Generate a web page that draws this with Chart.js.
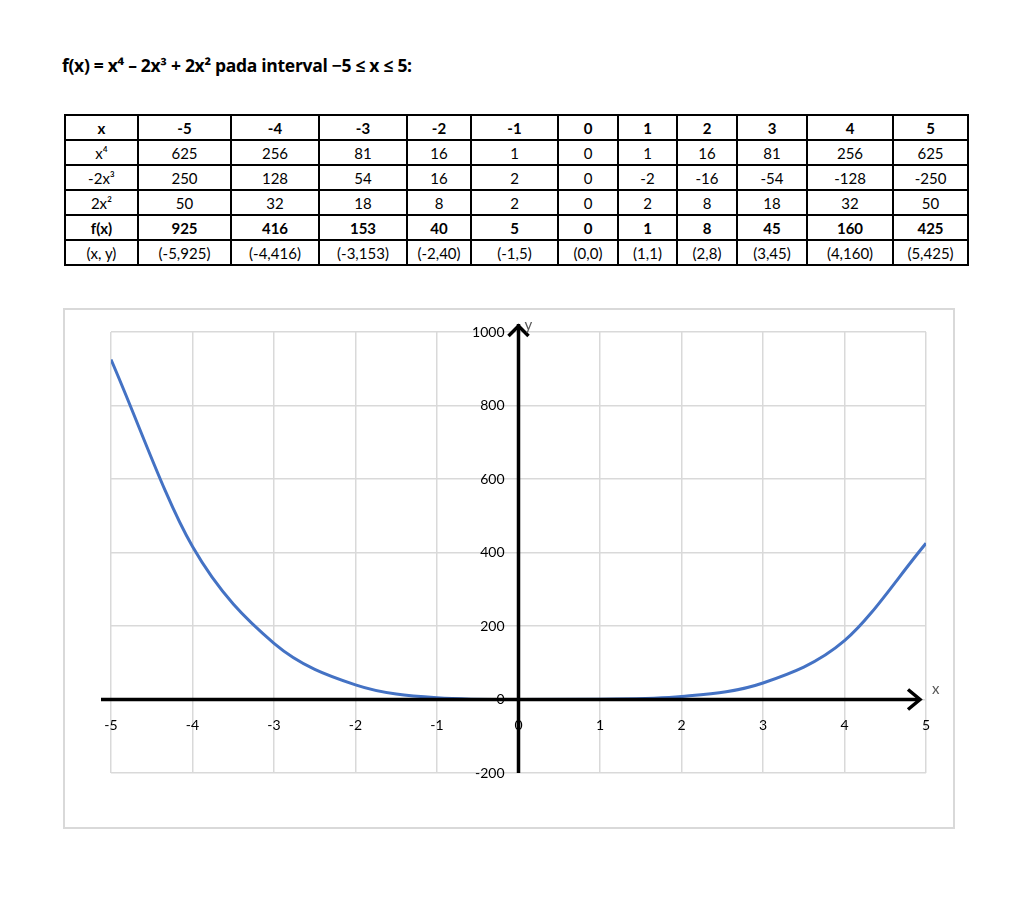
<!DOCTYPE html>
<html><head><meta charset="utf-8">
<script src="https://cdn.jsdelivr.net/npm/chart.js@4"></script>
<style>
body{margin:0;background:#fff;font-family:Lato,"Open Sans",sans-serif;}
#title{position:absolute;left:62px;top:53px;font-size:17.5px;font-weight:bold;font-family:"Open Sans",sans-serif;letter-spacing:-0.3px}
table{position:absolute;left:64px;top:114px;border-collapse:collapse;font-size:15px;table-layout:fixed;width:880px;}
td{border:2px solid #000;text-align:center;height:23px;padding:0;white-space:nowrap;}
tr.b td{font-weight:bold;}
#box{position:absolute;left:63px;top:308px;width:888px;height:517px;border:2px solid #d9d9d9;}
</style></head><body>
<div id="title">f(x) = x⁴ – 2x³ + 2x² pada interval −5 ≤ x ≤ 5:</div>
<table id="tbl"></table>
<div id="box"><canvas id="c" width="888" height="517"></canvas></div>
<script>
const xs=[-5,-4,-3,-2,-1,0,1,2,3,4,5];
const x4=[625,256,81,16,1,0,1,16,81,256,625];
const m2x3=[250,128,54,16,2,0,-2,-16,-54,-128,-250];
const t2x2=[50,32,18,8,2,0,2,8,18,32,50];
const fx=[925,416,153,40,5,0,1,8,45,160,425];
const yTicks=[-200,0,200,400,600,800,1000];
const colW=[71,91,86,86,62,85,58,57,58,68,84,73];
const rows=[["x",xs,true],["x⁴",x4],["-2x³",m2x3],["2x²",t2x2],["f(x)",fx,true],["(x, y)",xs.map((v,i)=>"("+v+","+fx[i]+")")]];
const tb=document.getElementById('tbl');
rows.forEach(r=>{const tr=document.createElement('tr');if(r[2])tr.className='b';
 [r[0],...r[1]].forEach((v,i)=>{const td=document.createElement('td');td.textContent=v;td.style.width=colW[i]+'px';tr.appendChild(td);});tb.appendChild(tr);});
const arrows={id:'arrows',afterDraw(ch){const c=ch.ctx,X=ch.scales.x,Y=ch.scales.y;
 const x0=X.getPixelForValue(0),y0=Y.getPixelForValue(0);c.save();c.strokeStyle='#000';c.lineWidth=3.5;
 c.beginPath();c.moveTo(X.left-10,y0);c.lineTo(X.right-8,y0);c.moveTo(x0,Y.bottom);c.lineTo(x0,Y.top-8);c.stroke();
 c.beginPath();c.moveTo(X.right-18,y0-10);c.lineTo(X.right-6,y0);c.lineTo(X.right-18,y0+10);
 c.moveTo(x0-10,Y.top+4);c.lineTo(x0,Y.top-6);c.lineTo(x0+10,Y.top+4);c.stroke();
 c.fillStyle='#595959';c.font='15px Lato';c.fillText('x',X.right+6,y0-6);c.fillText('y',x0+6,Y.top-2);
 c.fillStyle='#000';c.font='14px Lato';c.textAlign='right';c.textBaseline='middle';
 yTicks.forEach(v=>c.fillText(String(v),x0-14,Y.getPixelForValue(v)));
 c.textAlign='center';
 xs.forEach(v=>c.fillText(String(v),X.getPixelForValue(v),y0+26));
 c.restore();}};
new Chart(document.getElementById('c'),{type:'line',
 data:{datasets:[{data:xs.map((v,i)=>({x:v,y:fx[i]})),borderColor:'#4472c4',borderWidth:3,pointRadius:0,cubicInterpolationMode:'monotone',fill:false}]},
 options:{responsive:false,animation:false,layout:{padding:{left:46,right:27,top:22,bottom:54}},
 plugins:{legend:{display:false},tooltip:{enabled:false}},
 scales:{x:{type:'linear',min:-5,max:5,position:{y:0},grid:{color:'#d9d9d9',lineWidth:1.5,drawTicks:false},border:{display:false},
   ticks:{stepSize:1,display:false}},
  y:{min:-200,max:1000,position:{x:0},grid:{color:'#d9d9d9',lineWidth:1.5,drawTicks:false},border:{display:false},
   ticks:{stepSize:200,display:false}}}},
 plugins:[arrows]});
</script></body></html>
